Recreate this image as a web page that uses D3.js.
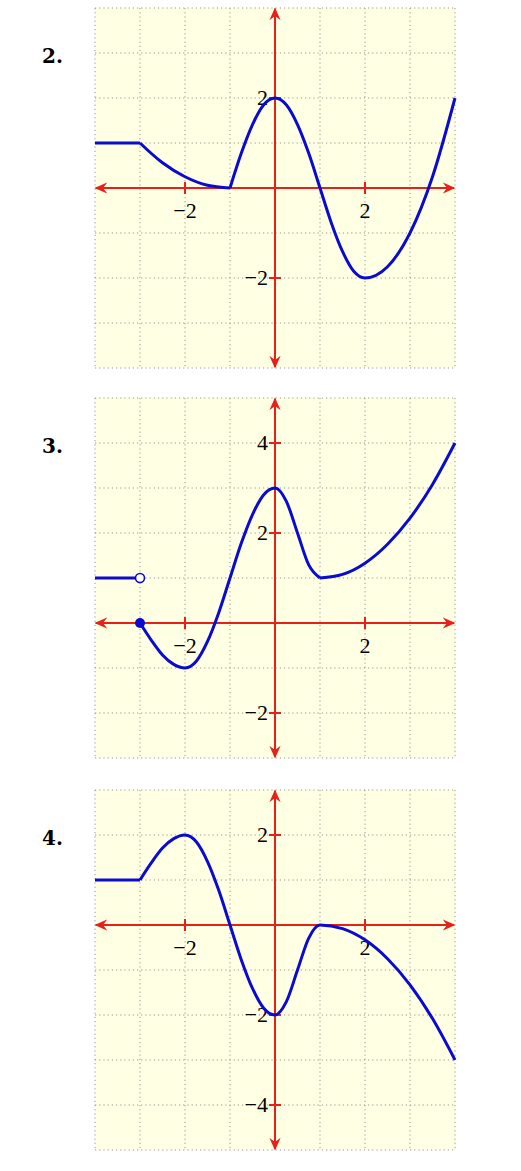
<!DOCTYPE html>
<html><head><meta charset="utf-8">
<script src="https://cdn.jsdelivr.net/npm/d3@7"></script>
<style>body{margin:0;background:#fff}</style></head>
<body><svg id="c" width="521" height="1171"></svg>
<script>
const panelNames = ["2.", "3.", "4."];
const yRanges = [[-4,4],[-3,5],[-5,3]];
const xTicks = [[-2,2],[-2,2],[-2,2]];
const yTicks = [[2,-2],[4,2,-2],[2,-2,-4]];
const curves = [
  [[[-4,1],[-3,1]],
   [[-3,1],[-2.5,0.56],[-2,0.25],[-1.5,0.06],[-1,0]],
   [[-1,0],[-0.75,0.77],[-0.5,1.41],[-0.25,1.85],[0,2],[0.25,1.85],[0.5,1.41],[0.75,0.77],[1,0],[1.25,-0.77],[1.5,-1.41],[1.75,-1.85],[2,-2],[2.5,-1.75],[3,-1],[3.5,0.25],[4,2]]],
  [[[-4,1],[-3,1]],
   [[-3,0],[-2.75,-0.38],[-2.5,-0.71],[-2.25,-0.92],[-2,-1],[-1.75,-0.85],[-1.5,-0.41],[-1.25,0.23],[-1,1],[-0.75,1.77],[-0.5,2.41],[-0.25,2.85],[0,3],[0.25,2.71],[0.5,2],[0.75,1.29],[1,1]],
   [[1,1],[1.5,1.08],[2,1.33],[2.5,1.75],[3,2.33],[3.5,3.08],[4,4]]],
  [[[-4,1],[-3,1]],
   [[-3,1],[-2.75,1.38],[-2.5,1.71],[-2.25,1.92],[-2,2],[-1.75,1.85],[-1.5,1.41],[-1.25,0.77],[-1,0],[-0.75,-0.77],[-0.5,-1.41],[-0.25,-1.85],[0,-2],[0.25,-1.71],[0.5,-1],[0.75,-0.29],[1,0],[1.5,-0.08],[2,-0.33],[2.5,-0.75],[3,-1.33],[3.5,-2.08],[4,-3]]]
];
const openDots = [[], [[-3,1]], []];
const filledDots = [[], [[-3,0]], []];
const tops = [8, 398, 790];

const svg = d3.select("#c");
const defs = svg.append("defs");
defs.append("marker").attr("id","ar").attr("viewBox","0 0 10 10").attr("refX",8).attr("refY",5)
 .attr("markerWidth",7).attr("markerHeight",7).attr("orient","auto-start-reverse")
 .append("path").attr("d","M0,1 L9,5 L0,9 L3,5 Z").attr("fill","#e8201a");

panelNames.forEach((name,i)=>{
  const x = d3.scaleLinear().domain([-4,4]).range([95,455]);
  const y = d3.scaleLinear().domain(yRanges[i]).range([tops[i]+360, tops[i]]);
  const g = svg.append("g");
  g.append("rect").attr("x",95).attr("y",tops[i]).attr("width",360).attr("height",360).attr("fill","#ffffe3");
  d3.range(-4,5).forEach(v=>{
    g.append("line").attr("x1",x(v)).attr("x2",x(v)).attr("y1",tops[i]).attr("y2",tops[i]+360)
      .attr("stroke","#999").attr("stroke-dasharray","1.2,3").attr("stroke-width",1);
  });
  d3.range(yRanges[i][0],yRanges[i][1]+1).forEach(v=>{
    g.append("line").attr("y1",y(v)).attr("y2",y(v)).attr("x1",95).attr("x2",455)
      .attr("stroke","#999").attr("stroke-dasharray","1.2,3").attr("stroke-width",1);
  });
  g.append("line").attr("x1",96).attr("x2",454).attr("y1",y(0)).attr("y2",y(0))
    .attr("stroke","#e8201a").attr("stroke-width",2).attr("marker-start","url(#ar)").attr("marker-end","url(#ar)");
  g.append("line").attr("x1",x(0)).attr("x2",x(0)).attr("y1",tops[i]+359).attr("y2",tops[i]+1)
    .attr("stroke","#e8201a").attr("stroke-width",2).attr("marker-start","url(#ar)").attr("marker-end","url(#ar)");
  xTicks[i].forEach(v=>{
    g.append("line").attr("x1",x(v)).attr("x2",x(v)).attr("y1",y(0)-6).attr("y2",y(0)+6).attr("stroke","#e8201a").attr("stroke-width",2);
    g.append("text").attr("x",x(v)).attr("y",y(0)+30).attr("text-anchor","middle")
      .attr("font-family","Liberation Serif, serif").attr("font-size",22).text(v<0?"\u2212"+(-v):v);
  });
  yTicks[i].forEach(v=>{
    g.append("line").attr("y1",y(v)).attr("y2",y(v)).attr("x1",x(0)-6).attr("x2",x(0)+6).attr("stroke","#e8201a").attr("stroke-width",2);
    g.append("text").attr("x",x(0)-7).attr("y",y(v)+7).attr("text-anchor","end")
      .attr("font-family","Liberation Serif, serif").attr("font-size",22).text(v<0?"\u2212"+(-v):v);
  });
  const line = d3.line().x(d=>x(d[0])).y(d=>y(d[1])).curve(d3.curveMonotoneX);
  curves[i].forEach(c=>{
    g.append("path").attr("d",line(c)).attr("fill","none").attr("stroke","#0a0ad0").attr("stroke-width",3).attr("stroke-linejoin","round");
  });
  openDots[i].forEach(d=>g.append("circle").attr("cx",x(d[0])).attr("cy",y(d[1])).attr("r",4.5)
    .attr("fill","#fff").attr("stroke","#0a0ad0").attr("stroke-width",1.6));
  filledDots[i].forEach(d=>g.append("circle").attr("cx",x(d[0])).attr("cy",y(d[1])).attr("r",5).attr("fill","#0a0ad0"));
  svg.append("text").attr("x",42).attr("y",tops[i]+55).attr("font-family","DejaVu Serif, serif")
    .attr("font-weight",700).attr("font-size",20).text(name);
});
</script></body></html>
